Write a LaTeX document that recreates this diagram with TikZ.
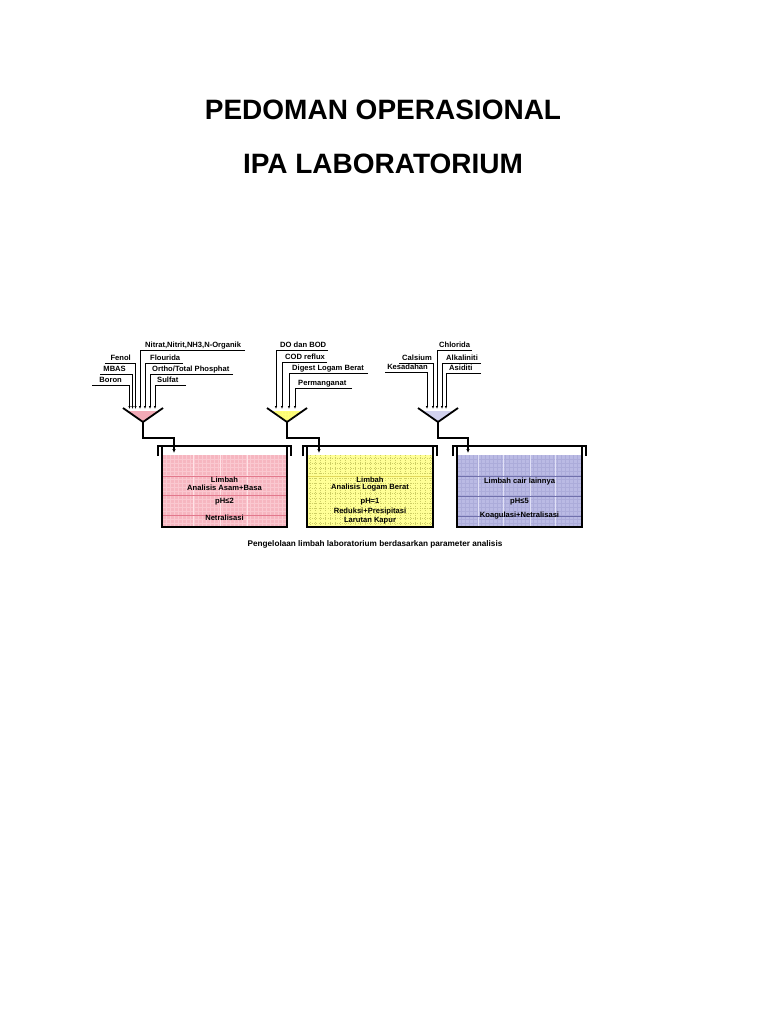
\documentclass[tikz,border=0pt]{standalone}
\usepackage{fontspec}
\setmainfont{Liberation Sans}
\usetikzlibrary{arrows.meta}
\definecolor{pinkfill}{RGB}{246,182,192}
\definecolor{pinkminor}{RGB}{250,200,208}
\definecolor{pinkmajor}{RGB}{226,120,140}
\definecolor{pinkwhite}{RGB}{255,226,230}
\definecolor{yelfill}{RGB}{255,255,150}
\definecolor{yeldot}{RGB}{205,205,100}
\definecolor{yelmajor}{RGB}{225,215,90}
\definecolor{lavfill}{RGB}{186,186,228}
\definecolor{lavminor}{RGB}{172,172,218}
\definecolor{lavmajor}{RGB}{112,112,172}
\definecolor{lavwhite}{RGB}{224,224,246}
\definecolor{funpink}{RGB}{242,170,182}
\definecolor{funyel}{RGB}{255,255,120}
\definecolor{funlav}{RGB}{210,210,238}
\newcommand{\ulab}[8]{%
  \node[lab,anchor=base #2] (#1) at (#3,#7-2.5) {#4};
  \coordinate (#1a) at (#5,#7);
  \coordinate (#1b) at (#6,#7);
  \coordinate (#1c) at (#6,#8);
  \draw[lline] (#1a) -- (#1b);
  \draw[larr] (#1b) -- (#1c);
}
\newcommand{\funnelat}[3]{%
  \coordinate (#1L) at (#2-20,408);
  \coordinate (#1R) at (#2+20,408);
  \coordinate (#1) at (#2,422);
  \fill[#3] (#2-15.7,411) -- (#2+15.7,411) -- (#1) -- cycle;
  \draw[funline] (#1L) -- (#1) -- (#1R);
}
\newcommand{\tankrim}[3]{%
  \coordinate (#1tl) at (#2,446);
  \coordinate (#1tr) at (#3,446);
  \coordinate (#1bl) at (#2,527);
  \coordinate (#1br) at (#3,527);
  \coordinate (#1rl) at (#2-4,456);
  \coordinate (#1rr) at (#3+4,456);
  \draw[wall] (#1rl) -- ++(0,-10) -- ([xshift=4pt]#1tr) -- (#1rr);
  \draw[wall] (#1tl) -- (#1bl) -- (#1br) -- (#1tr);
}
\begin{document}
\begin{tikzpicture}[x=1pt,y=-1pt,
  lab/.style={font=\fontsize{7.6}{8.6}\selectfont\bfseries, inner sep=0pt},
  capt/.style={font=\fontsize{8.2}{9}\selectfont\bfseries, inner sep=0pt},
  ttl/.style={font=\fontsize{28}{30}\selectfont\bfseries, inner sep=0pt},
  lline/.style={line width=0.75pt},
  larr/.style={line width=0.75pt,-{Latex[length=3pt,width=2.4pt]}},
  funline/.style={line width=1.8pt,line join=miter},
  conn/.style={line width=1.5pt,-{Latex[length=4pt,width=3.6pt]}},
  wall/.style={line width=1.8pt,line join=miter}]
\useasboundingbox[fill=white] (0,0) rectangle (768,1024);

% Title
\node[ttl] (title1) at (383,110) {PEDOMAN OPERASIONAL};
\node[ttl] (title2) at (383,164) {IPA LABORATORIUM};

% ---------- Tank fills and grids ----------
% Tank 1 (pink)
\fill[pinkfill] (162,455) rectangle (287,527);
\foreach \x in {166,170,...,286} \draw[pinkminor,line width=0.35pt] (\x,455) -- (\x,527);
\foreach \y in {459,463,...,525} \draw[pinkminor,line width=0.35pt] (162,\y) -- (287,\y);
\foreach \x in {193,220,247} \draw[pinkwhite,line width=0.9pt] (\x,455) -- (\x,527);
\foreach \y in {476,495,515} \draw[pinkmajor,line width=0.7pt] (162,\y) -- (287,\y);
% Tank 2 (yellow, dotted)
\fill[yelfill] (307,455) rectangle (433,527);
\foreach \x in {310,315,...,431} \draw[yeldot,line width=0.45pt,dash pattern=on 0.7pt off 1.6pt] (\x,455) -- (\x,527);
\foreach \y in {458,463,...,525} \draw[yeldot,line width=0.45pt,dash pattern=on 0.7pt off 1.6pt] (307,\y) -- (433,\y);
\draw[yelmajor,line width=0.6pt] (307,476) -- (433,476);
% Tank 3 (lavender)
\fill[lavfill] (457,455) rectangle (582,527);
\foreach \x in {461,465,...,581} \draw[lavminor,line width=0.35pt] (\x,455) -- (\x,527);
\foreach \y in {459,463,...,525} \draw[lavminor,line width=0.35pt] (457,\y) -- (582,\y);
\foreach \x in {478,503,530,555} \draw[lavwhite,line width=0.9pt] (\x,455) -- (\x,527);
\foreach \y in {476,496,516} \draw[lavmajor,line width=0.7pt] (457,\y) -- (582,\y);

% Tank outlines
\tankrim{tA}{162}{287}
\tankrim{tB}{307}{433}
\tankrim{tC}{457}{582}

% Tank texts
\node[lab] (a1) at (224.5,479.5) {Limbah};
\node[lab] (a2) at (224.5,487.5) {Analisis Asam+Basa};
\node[lab] (a3) at (224.5,502) {pH≤2};
\node[lab] (a4) at (224.5,518) {Netralisasi};
\node[lab] (b1) at (370,479.5) {Limbah};
\node[lab] (b2) at (370,487.5) {Analisis Logam Berat};
\node[lab] (b3) at (370,501.5) {pH=1};
\node[lab] (b4) at (370,512) {Reduksi+Presipitasi};
\node[lab] (b5) at (370,520.5) {Larutan Kapur};
\node[lab] (c1) at (519.5,482) {Limbah cair lainnya};
\node[lab] (c2) at (519.5,501.5) {pH≤5};
\node[lab] (c3) at (519.5,515.5) {Koagulasi+Netralisasi};

% Funnels
\funnelat{fA}{143}{funpink}
\funnelat{fB}{287}{funyel}
\funnelat{fC}{438}{funlav}
\foreach \x in {278,281,...,296} \foreach \y in {413,416,419} \fill[yeldot] (\x,\y) circle (0.35);

% Funnel 1 labels
\ulab{nit}{west}{145}{Nitrat,Nitrit,NH3,N-Organik}{245}{140}{350}{409}
\ulab{fen}{east}{131}{Fenol}{105}{135.5}{363}{409}
\ulab{mba}{east}{126}{MBAS}{100}{132.5}{374}{409}
\ulab{bor}{east}{122}{Boron}{92}{129.5}{385}{409}
\ulab{flo}{west}{150}{Flourida}{183}{145}{363}{409}
\ulab{ort}{west}{152}{Ortho/Total Phosphat}{233}{150}{374}{409}
\ulab{sul}{west}{157}{Sulfat}{186}{155}{385}{409}

% Funnel 2 labels
\ulab{dob}{west}{280}{DO dan BOD}{328}{276}{350}{409}
\ulab{cod}{west}{285}{COD reflux}{327}{282}{362}{409}
\ulab{dig}{west}{292}{Digest Logam Berat}{368}{289}{373}{409}
\ulab{per}{west}{298}{Permanganat}{352}{295}{388}{409}

% Funnel 3 labels
\ulab{chl}{west}{439}{Chlorida}{472}{437}{350}{409}
\ulab{cal}{east}{432}{Calsium}{399}{433}{363}{409}
\ulab{kes}{east}{428}{Kesadahan}{385}{427}{372}{409}
\ulab{alk}{west}{446}{Alkaliniti}{481}{442}{363}{409}
\ulab{asi}{west}{449}{Asiditi}{481}{446}{373}{409}

% Connectors funnel -> tank
\coordinate (kA1) at (174,438); \coordinate (kA2) at (174,453);
\coordinate (kB1) at (319,438); \coordinate (kB2) at (319,453);
\coordinate (kC1) at (468,438); \coordinate (kC2) at (468,453);
\draw[conn] (fA) |- (kA1) -- (kA2);
\draw[conn] (fB) |- (kB1) -- (kB2);
\draw[conn] (fC) |- (kC1) -- (kC2);

% Caption
\node[capt] (cap) at (375,544) {Pengelolaan limbah laboratorium berdasarkan parameter analisis};
\end{tikzpicture}
\end{document}
